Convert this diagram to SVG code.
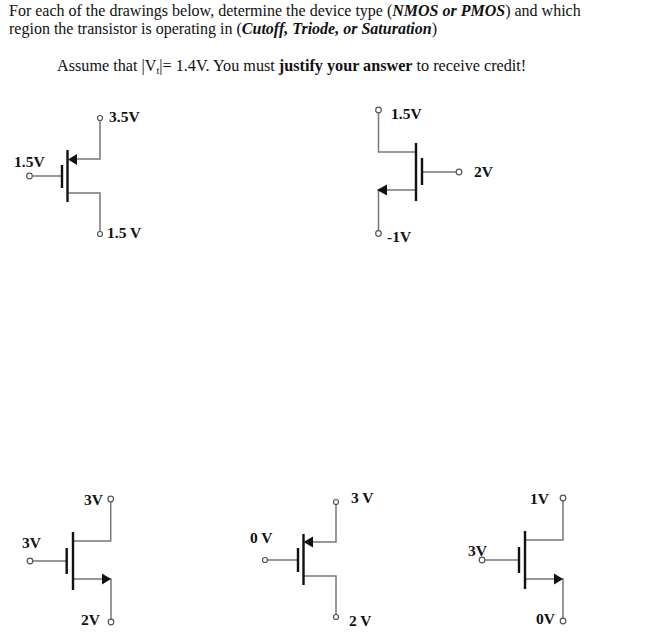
<svg xmlns="http://www.w3.org/2000/svg" width="649" height="640" viewBox="0 0 649 640">
<style>
text{font-family:"Liberation Serif","Times New Roman",serif;fill:#111}
.t{font-size:16px}
.t3{font-size:16.2px}
.l{font-size:15.5px;font-weight:bold}
.w{fill:none;stroke:#777;stroke-width:1.5}
.b{fill:none;stroke:#111;stroke-width:2.4}
.c{fill:#fff;stroke:#555;stroke-width:1.2}
.a{fill:#111}
</style>
<rect width="649" height="640" fill="#fff"/>
<g id="heading">
<text class="t" x="9" y="16">For each of the drawings below, determine the device type (<tspan font-weight="bold" font-style="italic">NMOS or PMOS</tspan>) and which</text>
<text class="t" x="9" y="34">region the transistor is operating in (<tspan font-weight="bold" font-style="italic">Cutoff, Triode, or Saturation</tspan>)</text>
<text class="t3" x="57" y="71">Assume that |V<tspan font-size="10" dy="3">t</tspan><tspan dy="-3">|= 1.4V. You must </tspan><tspan font-weight="bold">justify your answer</tspan> to receive credit!</text>
</g>
<g id="connectors">
<path class="w" d="M100 120.500V159H76M68 193H100V231.500M33 176H62"/>
<path class="w" d="M378.500 112.500V152H416M416 190H378.500V231M422 172H456.500"/>
<path class="w" d="M110.700 501.500V541H73M73 579H111V619.500M32.500 561H66.700"/>
<path class="w" d="M336 504.500V542H312M303 576H336V614.500M267.500 560H298"/>
<path class="w" d="M563 500.500V540H525M525 579H563V618.500M484.500 560H519"/>
</g>
<g id="m1">
<path class="b" d="M67.500 150V202M62 165V188"/>
<polygon class="a" points="68,159.500 77,154 77,165"/>
<circle class="c" cx="100" cy="118" r="2.500"/><circle class="c" cx="100" cy="234" r="2.500"/><circle class="c" cx="29.500" cy="176" r="2.800"/>
<text class="l" x="109" y="122">3.5V</text><text class="l" x="14" y="167">1.5V</text><text class="l" x="107" y="238">1.5 V</text>
</g>
<g id="m2">
<path class="b" d="M416 143V201M422 158V185"/>
<polygon class="a" points="377,190 387,184.500 387,195.500"/>
<circle class="c" cx="378.500" cy="110" r="2.800"/><circle class="c" cx="378.500" cy="233.500" r="2.800"/><circle class="c" cx="459" cy="172" r="2.800"/>
<text class="l" x="391" y="119">1.5V</text><text class="l" x="474" y="177">2V</text><text class="l" x="387" y="242">-1V</text>
</g>
<g id="m3">
<path class="b" d="M73 532V590M66.700 548V574"/>
<polygon class="a" points="111,579 102,573.500 102,584.500"/>
<circle class="c" cx="110.700" cy="499" r="2.800"/><circle class="c" cx="111" cy="622" r="2.800"/><circle class="c" cx="30" cy="561" r="2.800"/>
<text class="l" x="84" y="505">3V</text><text class="l" x="22" y="548">3V</text><text class="l" x="81" y="625">2V</text>
</g>
<g id="m4">
<path class="b" d="M303.500 534V585M298 548V572"/>
<polygon class="a" points="303.500,542 313,536.500 313,547.500"/>
<circle class="c" cx="336" cy="502" r="2.500"/><circle class="c" cx="336" cy="617" r="2.500"/><circle class="c" cx="265" cy="560" r="2.500"/>
<text class="l" x="351" y="503">3 V</text><text class="l" x="250" y="543">0 V</text><text class="l" x="349" y="626">2 V</text>
</g>
<g id="m5">
<path class="b" d="M525 531V589M519 547V573"/>
<polygon class="a" points="563,579 554,573.500 554,584.500"/>
<circle class="c" cx="563" cy="498" r="2.800"/><circle class="c" cx="563" cy="621" r="2.800"/><circle class="c" cx="482" cy="560" r="2.800"/>
<text class="l" x="530" y="504">1V</text><text class="l" x="468" y="556">3V</text><text class="l" x="536" y="624">0V</text>
</g>
</svg>
